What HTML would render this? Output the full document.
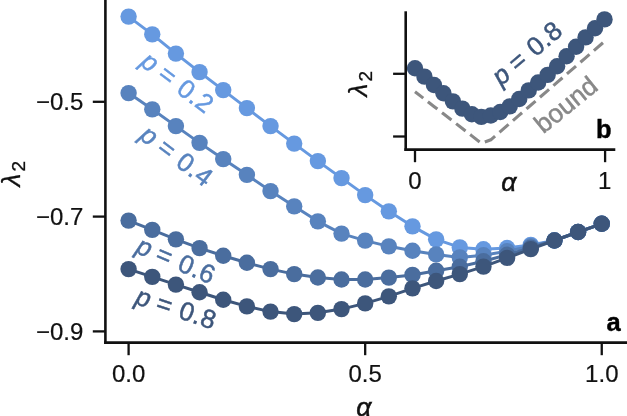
<!DOCTYPE html>
<html lang="en"><head><meta charset="utf-8"><title>lambda2 vs alpha</title>
<style>html,body{margin:0;padding:0;background:#fff}svg{display:block}text{font-family:"Liberation Sans",sans-serif}</style>
</head><body>
<svg width="627" height="416" viewBox="0 0 627 416">
<rect width="627" height="416" fill="#fff"/>
<g fill="#6699e0" stroke="none"><polyline points="128.60,16.60 152.26,34.35 175.91,53.60 199.57,72.10 223.23,90.10 246.89,108.10 270.54,126.10 294.20,143.60 317.86,161.10 341.52,178.10 365.17,195.10 388.83,211.35 412.49,226.35 436.15,239.35 459.80,247.40 483.46,249.20 507.12,248.00 530.78,244.90 554.43,240.50 578.09,232.00 601.75,223.80" fill="none" stroke="#6699e0" stroke-width="3.0" stroke-linejoin="round"/>
<circle cx="128.60" cy="16.60" r="8.2"/><circle cx="152.26" cy="34.35" r="8.2"/><circle cx="175.91" cy="53.60" r="8.2"/><circle cx="199.57" cy="72.10" r="8.2"/><circle cx="223.23" cy="90.10" r="8.2"/><circle cx="246.89" cy="108.10" r="8.2"/><circle cx="270.54" cy="126.10" r="8.2"/><circle cx="294.20" cy="143.60" r="8.2"/><circle cx="317.86" cy="161.10" r="8.2"/><circle cx="341.52" cy="178.10" r="8.2"/><circle cx="365.17" cy="195.10" r="8.2"/><circle cx="388.83" cy="211.35" r="8.2"/><circle cx="412.49" cy="226.35" r="8.2"/><circle cx="436.15" cy="239.35" r="8.2"/><circle cx="459.80" cy="247.40" r="8.2"/><circle cx="483.46" cy="249.20" r="8.2"/><circle cx="507.12" cy="248.00" r="8.2"/><circle cx="530.78" cy="244.90" r="8.2"/><circle cx="554.43" cy="240.50" r="8.2"/><circle cx="578.09" cy="232.00" r="8.2"/><circle cx="601.75" cy="223.80" r="8.2"/>
</g>
<g fill="#5883be" stroke="none"><polyline points="128.60,93.10 152.26,109.35 175.91,126.10 199.57,142.85 223.23,159.10 246.89,174.85 270.54,191.10 294.20,206.35 317.86,221.35 341.52,233.60 365.17,240.60 388.83,246.35 412.49,250.70 436.15,254.40 459.80,257.40 483.46,255.20 507.12,251.20 530.78,246.20 554.43,240.50 578.09,232.00 601.75,223.80" fill="none" stroke="#5883be" stroke-width="3.0" stroke-linejoin="round"/>
<circle cx="128.60" cy="93.10" r="8.2"/><circle cx="152.26" cy="109.35" r="8.2"/><circle cx="175.91" cy="126.10" r="8.2"/><circle cx="199.57" cy="142.85" r="8.2"/><circle cx="223.23" cy="159.10" r="8.2"/><circle cx="246.89" cy="174.85" r="8.2"/><circle cx="270.54" cy="191.10" r="8.2"/><circle cx="294.20" cy="206.35" r="8.2"/><circle cx="317.86" cy="221.35" r="8.2"/><circle cx="341.52" cy="233.60" r="8.2"/><circle cx="365.17" cy="240.60" r="8.2"/><circle cx="388.83" cy="246.35" r="8.2"/><circle cx="412.49" cy="250.70" r="8.2"/><circle cx="436.15" cy="254.40" r="8.2"/><circle cx="459.80" cy="257.40" r="8.2"/><circle cx="483.46" cy="255.20" r="8.2"/><circle cx="507.12" cy="251.20" r="8.2"/><circle cx="530.78" cy="246.20" r="8.2"/><circle cx="554.43" cy="240.50" r="8.2"/><circle cx="578.09" cy="232.00" r="8.2"/><circle cx="601.75" cy="223.80" r="8.2"/>
</g>
<g fill="#4a6d9e" stroke="none"><polyline points="128.60,220.60 152.26,229.85 175.91,239.35 199.57,248.10 223.23,255.80 246.89,262.80 270.54,269.10 294.20,274.10 317.86,277.50 341.52,279.50 365.17,279.50 388.83,277.60 412.49,274.90 436.15,270.70 459.80,266.80 483.46,261.30 507.12,254.80 530.78,247.80 554.43,240.50 578.09,232.00 601.75,223.80" fill="none" stroke="#4a6d9e" stroke-width="3.0" stroke-linejoin="round"/>
<circle cx="128.60" cy="220.60" r="8.2"/><circle cx="152.26" cy="229.85" r="8.2"/><circle cx="175.91" cy="239.35" r="8.2"/><circle cx="199.57" cy="248.10" r="8.2"/><circle cx="223.23" cy="255.80" r="8.2"/><circle cx="246.89" cy="262.80" r="8.2"/><circle cx="270.54" cy="269.10" r="8.2"/><circle cx="294.20" cy="274.10" r="8.2"/><circle cx="317.86" cy="277.50" r="8.2"/><circle cx="341.52" cy="279.50" r="8.2"/><circle cx="365.17" cy="279.50" r="8.2"/><circle cx="388.83" cy="277.60" r="8.2"/><circle cx="412.49" cy="274.90" r="8.2"/><circle cx="436.15" cy="270.70" r="8.2"/><circle cx="459.80" cy="266.80" r="8.2"/><circle cx="483.46" cy="261.30" r="8.2"/><circle cx="507.12" cy="254.80" r="8.2"/><circle cx="530.78" cy="247.80" r="8.2"/><circle cx="554.43" cy="240.50" r="8.2"/><circle cx="578.09" cy="232.00" r="8.2"/><circle cx="601.75" cy="223.80" r="8.2"/>
</g>
<g fill="#3d567b" stroke="none"><polyline points="128.60,269.10 152.26,276.85 175.91,284.60 199.57,292.20 223.23,299.70 246.89,306.40 270.54,311.60 294.20,314.10 317.86,312.85 341.52,309.10 365.17,303.40 388.83,296.35 412.49,288.35 436.15,281.00 459.80,274.10 483.46,266.60 507.12,257.90 530.78,249.10 554.43,240.50 578.09,232.00 601.75,223.80" fill="none" stroke="#3d567b" stroke-width="3.0" stroke-linejoin="round"/>
<circle cx="128.60" cy="269.10" r="8.2"/><circle cx="152.26" cy="276.85" r="8.2"/><circle cx="175.91" cy="284.60" r="8.2"/><circle cx="199.57" cy="292.20" r="8.2"/><circle cx="223.23" cy="299.70" r="8.2"/><circle cx="246.89" cy="306.40" r="8.2"/><circle cx="270.54" cy="311.60" r="8.2"/><circle cx="294.20" cy="314.10" r="8.2"/><circle cx="317.86" cy="312.85" r="8.2"/><circle cx="341.52" cy="309.10" r="8.2"/><circle cx="365.17" cy="303.40" r="8.2"/><circle cx="388.83" cy="296.35" r="8.2"/><circle cx="412.49" cy="288.35" r="8.2"/><circle cx="436.15" cy="281.00" r="8.2"/><circle cx="459.80" cy="274.10" r="8.2"/><circle cx="483.46" cy="266.60" r="8.2"/><circle cx="507.12" cy="257.90" r="8.2"/><circle cx="530.78" cy="249.10" r="8.2"/><circle cx="554.43" cy="240.50" r="8.2"/><circle cx="578.09" cy="232.00" r="8.2"/><circle cx="601.75" cy="223.80" r="8.2"/>
</g>
<g stroke="#111111" stroke-width="2.6" fill="none" stroke-linecap="butt">
<path d="M105.4 0V343.90000000000003"/>
<path d="M104.10000000000001 342.6H627"/>
</g>
<g stroke="#111111" stroke-width="2.3" fill="none" stroke-linecap="butt">
<path d="M92.80000000000001 101.8H105.4"/>
<path d="M92.80000000000001 216.6H105.4"/>
<path d="M92.80000000000001 331.4H105.4"/>
<path d="M128.60 342.6V355.20000000000005"/>
<path d="M365.18 342.6V355.20000000000005"/>
<path d="M601.75 342.6V355.20000000000005"/>
</g>
<g fill="#111111" stroke="#111111" stroke-width="0.2" font-size="24px">
<text x="83.3" y="110.4" text-anchor="end">−0.5</text>
<text x="83.3" y="225.2" text-anchor="end">−0.7</text>
<text x="83.3" y="340.0" text-anchor="end">−0.9</text>
<text x="128.6" y="382.3" text-anchor="middle">0.0</text>
<text x="365.2" y="382.3" text-anchor="middle">0.5</text>
<text x="601.8" y="382.3" text-anchor="middle">1.0</text>
</g>
<text x="363.9" y="416.3" font-size="26.5px" font-style="italic" text-anchor="middle" fill="#111111" stroke="#111111" stroke-width="0.5">α</text>
<text transform="translate(20.2,186.6) rotate(-90)" font-size="26px" fill="#111111" stroke="#111111" stroke-width="0.3"><tspan font-style="italic">λ</tspan><tspan font-size="19px" dy="5.1" dx="2.2">2</tspan></text>
<text x="606.6" y="330.6" font-size="25.5px" font-weight="bold" fill="#000" stroke="#000" stroke-width="0.4">a</text>
<text transform="translate(172.2,89.6) rotate(37)" font-size="26px" text-anchor="middle" fill="#6699e0" stroke="#6699e0" stroke-width="0.5"><tspan font-style="italic">p</tspan><tspan dx="6.9">=</tspan><tspan dx="8.8" letter-spacing="0.5">0.2</tspan></text>
<text transform="translate(171.5,163) rotate(37)" font-size="26px" text-anchor="middle" fill="#5883be" stroke="#5883be" stroke-width="0.5"><tspan font-style="italic">p</tspan><tspan dx="6.9">=</tspan><tspan dx="8.8" letter-spacing="0.5">0.4</tspan></text>
<text transform="translate(172.6,268.4) rotate(23)" font-size="26px" text-anchor="middle" fill="#4a6d9e" stroke="#4a6d9e" stroke-width="0.5"><tspan font-style="italic">p</tspan><tspan dx="6.9">=</tspan><tspan dx="8.8" letter-spacing="0.5">0.6</tspan></text>
<text transform="translate(173.5,316.6) rotate(18.4)" font-size="26px" text-anchor="middle" fill="#3d567b" stroke="#3d567b" stroke-width="0.5"><tspan font-style="italic">p</tspan><tspan dx="6.9">=</tspan><tspan dx="8.8" letter-spacing="0.5">0.8</tspan></text>
<polyline points="415.00,91.70 424.48,99.06 433.95,106.42 443.43,113.78 452.90,121.14 462.38,128.50 471.85,135.86 481.32,143.22 490.80,139.80 500.27,131.60 509.75,123.40 519.23,115.20 528.70,107.00 538.17,98.80 547.65,90.60 557.12,82.40 566.60,74.20 576.08,66.00 585.55,57.80 595.02,49.60 604.50,41.40" fill="none" stroke="#888888" stroke-width="3.1" stroke-dasharray="12 5.84" stroke-dashoffset="1.5" stroke-linejoin="miter"/>
<g fill="#3d567b" stroke="none"><polyline points="415.00,68.30 424.48,76.67 433.95,85.04 443.43,93.25 452.90,101.35 462.38,108.58 471.85,114.20 481.32,116.90 490.80,115.55 500.27,112.00 509.75,106.34 519.23,98.93 528.70,90.39 538.17,82.45 547.65,74.90 557.12,66.20 566.60,56.20 576.08,46.70 585.55,37.41 595.02,28.23 604.50,19.38" fill="none" stroke="#3d567b" stroke-width="3.0" stroke-linejoin="round"/>
<circle cx="415.00" cy="68.30" r="8.2"/><circle cx="424.48" cy="76.67" r="8.2"/><circle cx="433.95" cy="85.04" r="8.2"/><circle cx="443.43" cy="93.25" r="8.2"/><circle cx="452.90" cy="101.35" r="8.2"/><circle cx="462.38" cy="108.58" r="8.2"/><circle cx="471.85" cy="114.20" r="8.2"/><circle cx="481.32" cy="116.90" r="8.2"/><circle cx="490.80" cy="115.55" r="8.2"/><circle cx="500.27" cy="112.00" r="8.2"/><circle cx="509.75" cy="106.34" r="8.2"/><circle cx="519.23" cy="98.93" r="8.2"/><circle cx="528.70" cy="90.39" r="8.2"/><circle cx="538.17" cy="82.45" r="8.2"/><circle cx="547.65" cy="74.90" r="8.2"/><circle cx="557.12" cy="66.20" r="8.2"/><circle cx="566.60" cy="56.20" r="8.2"/><circle cx="576.08" cy="46.70" r="8.2"/><circle cx="585.55" cy="37.41" r="8.2"/><circle cx="595.02" cy="28.23" r="8.2"/><circle cx="604.50" cy="19.38" r="8.2"/>
</g>
<g stroke="#111111" stroke-width="2.6" fill="none">
<path d="M405.7 11.3V150.9"/>
<path d="M404.4 149.6H615.3"/>
</g>
<g stroke="#111111" stroke-width="2.3" fill="none">
<path d="M393.09999999999997 73.8H405.7"/>
<path d="M393.09999999999997 136.5H405.7"/>
<path d="M415.00 149.6V162.20000000000002"/>
<path d="M605.10 149.6V162.20000000000002"/>
</g>
<g fill="#111111" stroke="#111111" stroke-width="0.2" font-size="24px" text-anchor="middle"><text x="415" y="189.1">0</text><text x="604.6" y="189.1">1</text></g>
<text x="508.8" y="190.5" font-size="26.5px" font-style="italic" text-anchor="middle" fill="#111111" stroke="#111111" stroke-width="0.5">α</text>
<text transform="translate(366.7,96.5) rotate(-90)" font-size="26px" fill="#111111" stroke="#111111" stroke-width="0.3"><tspan font-style="italic">λ</tspan><tspan font-size="19px" dy="5.1" dx="2.2">2</tspan></text>
<text x="595.9" y="137.5" font-size="25.5px" font-weight="bold" fill="#000" stroke="#000" stroke-width="0.4">b</text>
<text transform="translate(532.7,59.9) rotate(-40)" font-size="26px" text-anchor="middle" fill="#3d567b" stroke="#3d567b" stroke-width="0.5"><tspan font-style="italic">p</tspan><tspan dx="6.9">=</tspan><tspan dx="8.8" letter-spacing="0.5">0.8</tspan></text>
<text transform="translate(571.3,111.6) rotate(-39)" font-size="26px" text-anchor="middle" fill="#888888" stroke="#888888" stroke-width="0.5">bound</text>
</svg></body></html>
